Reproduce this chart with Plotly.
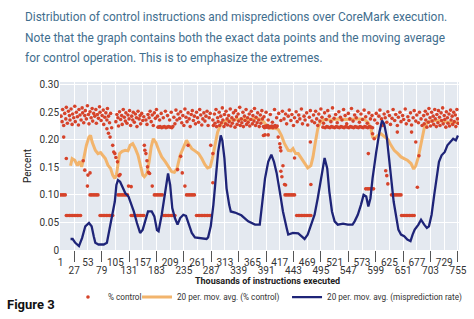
import plotly.graph_objects as go

# ---------------- data ----------------
tick_values = [1, 27, 53, 79, 105, 131, 157, 183, 209, 235, 261, 287, 313, 339, 365,
               391, 417, 443, 469, 495, 521, 547, 573, 599, 625, 651, 677, 703, 729, 755]
y_ticks = [0, 0.05, 0.10, 0.15, 0.20, 0.25, 0.30]
y_tick_text = ["0", "0.05", "0.10", "0.15", "0.20", "0.25", "0.30"]

title_lines = [
    "Distribution of control instructions and mispredictions over CoreMark execution.",
    "Note that the graph contains both the exact data points and the moving average",
    "for control operation. This is to emphasize the extremes.",
]

# 20 per. moving average (misprediction rate)
mis_x = [20, 24, 29, 36, 42, 48, 55, 60, 64, 67, 73, 83, 89, 92, 96, 100, 104, 107, 110, 114,
         118, 124, 130, 135, 140, 146, 152, 157, 162, 167, 174, 179, 184, 187, 193, 200, 205, 209,
         213, 218, 223, 228, 234, 239, 244, 250, 256, 269, 278, 281, 286, 291, 295, 300, 305, 308,
         312, 316, 321, 324, 332, 344, 357, 370, 379, 382, 389, 395, 401, 406, 411, 417, 423, 430,
         433, 442, 452, 458, 464, 470, 477, 483, 489, 496, 502, 507, 511, 516, 521, 527, 537, 546,
         555, 559, 565, 571, 576, 581, 585, 589, 593, 600, 606, 611, 615, 620, 625, 629, 633, 638,
         642, 647, 653, 659, 665, 669, 673, 680, 685, 691, 696, 700, 705, 710, 715, 719, 724, 730,
         735, 741, 746, 751, 755]
mis_y = [0.020, 0.020, 0.013, 0.007, 0.022, 0.043, 0.049, 0.043, 0.025, 0.013, 0.010, 0.010, 0.013,
         0.028, 0.046, 0.064, 0.088, 0.118, 0.127, 0.124, 0.115, 0.103, 0.097, 0.085, 0.070, 0.049,
         0.031, 0.037, 0.055, 0.070, 0.070, 0.061, 0.036, 0.034, 0.064, 0.112, 0.139, 0.118, 0.076,
         0.058, 0.046, 0.058, 0.064, 0.062, 0.046, 0.031, 0.023, 0.022, 0.020, 0.023, 0.043, 0.082,
         0.130, 0.178, 0.208, 0.199, 0.166, 0.112, 0.082, 0.070, 0.068, 0.063, 0.052, 0.046, 0.046,
         0.070, 0.130, 0.160, 0.173, 0.160, 0.140, 0.106, 0.070, 0.040, 0.028, 0.031, 0.030, 0.025,
         0.020, 0.028, 0.046, 0.064, 0.094, 0.136, 0.167, 0.148, 0.106, 0.070, 0.052, 0.046, 0.048,
         0.046, 0.046, 0.052, 0.064, 0.082, 0.100, 0.097, 0.079, 0.094, 0.130, 0.178, 0.214, 0.235,
         0.229, 0.205, 0.166, 0.124, 0.088, 0.058, 0.037, 0.028, 0.025, 0.019, 0.016, 0.028, 0.037,
         0.046, 0.055, 0.046, 0.040, 0.043, 0.064, 0.100, 0.136, 0.160, 0.172, 0.178, 0.190, 0.196,
         0.202, 0.199, 0.208]

# 20 per. moving average (% control)
avg_x = [20, 23, 28, 33, 37, 41, 45, 50, 55, 58, 61, 64, 67, 72, 77, 81, 86, 91, 96, 100, 104,
         107, 110, 113, 118, 124, 129, 133, 138, 143, 148, 152, 157, 160, 165, 169, 173, 177, 182,
         187, 193, 200, 206, 212, 217, 222, 228, 234, 240, 244, 250, 256, 263, 269, 275, 280, 285,
         289, 294, 299, 304, 310, 319, 332, 344, 357, 370, 379, 386, 392, 398, 408, 414, 420, 426,
         433, 438, 442, 447, 452, 458, 464, 470, 476, 480, 484, 489, 494, 502, 515, 527, 540, 552,
         565, 576, 584, 590, 593, 597, 603, 609, 615, 622, 628, 634, 641, 647, 653, 659, 666, 671,
         675, 680, 685, 688, 691, 697, 707, 716, 726, 735, 745, 755]
avg_y = [0.153, 0.166, 0.163, 0.153, 0.161, 0.151, 0.166, 0.190, 0.205, 0.208, 0.196, 0.187, 0.181,
         0.175, 0.177, 0.172, 0.166, 0.154, 0.148, 0.136, 0.130, 0.136, 0.157, 0.175, 0.179, 0.181,
         0.180, 0.190, 0.193, 0.184, 0.172, 0.157, 0.136, 0.133, 0.139, 0.160, 0.187, 0.202, 0.195,
         0.182, 0.169, 0.160, 0.151, 0.142, 0.141, 0.148, 0.172, 0.187, 0.199, 0.193, 0.184, 0.180,
         0.175, 0.166, 0.155, 0.149, 0.151, 0.166, 0.190, 0.214, 0.226, 0.233, 0.235, 0.237, 0.238,
         0.236, 0.239, 0.238, 0.233, 0.226, 0.221, 0.221, 0.219, 0.208, 0.193, 0.181, 0.180, 0.184,
         0.175, 0.175, 0.166, 0.157, 0.149, 0.153, 0.169, 0.193, 0.220, 0.233, 0.237, 0.236, 0.238,
         0.237, 0.238, 0.238, 0.238, 0.232, 0.220, 0.205, 0.203, 0.208, 0.211, 0.207, 0.201, 0.190,
         0.181, 0.175, 0.169, 0.166, 0.163, 0.157, 0.147, 0.153, 0.169, 0.193, 0.208, 0.221, 0.232,
         0.235, 0.235, 0.234, 0.232, 0.231, 0.232]

# % control, exact data points: main band
control_band = [
    (2, 0.243), (4, 0.233), (5, 0.255), (7, 0.226), (9, 0.248), (11, 0.238), (12, 0.259), (14, 0.230),
    (16, 0.252), (18, 0.244), (19, 0.236), (21, 0.256), (23, 0.228), (24, 0.247), (26, 0.240),
    (28, 0.261), (29, 0.233), (31, 0.250), (33, 0.242), (35, 0.227), (36, 0.255), (38, 0.245),
    (40, 0.236), (42, 0.258), (43, 0.249), (45, 0.231), (47, 0.244), (48, 0.253), (50, 0.238),
    (52, 0.262), (54, 0.246), (55, 0.229), (57, 0.251), (59, 0.240), (61, 0.257), (62, 0.234),
    (64, 0.248), (66, 0.243), (68, 0.255), (69, 0.230), (71, 0.246), (73, 0.239), (75, 0.260),
    (76, 0.250), (78, 0.235), (80, 0.244), (82, 0.254), (83, 0.228), (85, 0.241), (87, 0.249),
    (89, 0.236), (90, 0.257), (92, 0.243), (94, 0.231), (96, 0.248), (98, 0.222),
    (106, 0.233), (108, 0.246), (110, 0.240), (111, 0.225), (113, 0.251), (115, 0.237), (117, 0.244),
    (118, 0.228), (120, 0.255), (122, 0.241), (124, 0.234), (125, 0.249), (127, 0.230), (129, 0.245),
    (131, 0.238), (132, 0.253), (134, 0.226), (136, 0.243), (138, 0.236), (139, 0.250), (141, 0.232),
    (143, 0.247), (145, 0.240), (146, 0.224), (148, 0.252), (150, 0.238), (152, 0.244), (153, 0.229),
    (155, 0.248), (157, 0.235), (159, 0.242),
    (163, 0.236), (165, 0.228), (167, 0.246), (169, 0.240), (171, 0.252), (173, 0.233), (175, 0.245),
    (177, 0.226), (179, 0.249), (181, 0.239), (183, 0.255), (185, 0.243), (186, 0.223), (188, 0.223),
    (189, 0.236), (190, 0.224), (192, 0.248), (193, 0.222), (195, 0.223), (196, 0.240), (198, 0.224),
    (200, 0.252), (201, 0.222), (203, 0.223), (204, 0.244), (206, 0.224), (208, 0.236), (209, 0.223),
    (211, 0.250), (212, 0.222), (214, 0.224), (216, 0.241), (218, 0.229), (220, 0.254), (222, 0.236),
    (224, 0.247),
    (227, 0.239), (229, 0.251), (231, 0.231), (233, 0.244), (235, 0.226), (237, 0.256), (239, 0.241),
    (241, 0.233), (243, 0.249), (245, 0.238), (247, 0.224), (249, 0.246), (251, 0.253), (253, 0.235),
    (255, 0.243), (257, 0.229), (259, 0.250), (261, 0.240), (263, 0.232), (265, 0.255), (267, 0.245),
    (269, 0.227), (271, 0.238), (273, 0.249), (275, 0.234), (277, 0.243), (279, 0.252), (281, 0.226),
    (283, 0.240), (285, 0.248),
    (290, 0.236), (291, 0.226), (293, 0.247), (294, 0.230), (296, 0.255), (297, 0.224), (299, 0.240),
    (300, 0.233), (302, 0.250), (303, 0.226), (305, 0.243), (306, 0.231), (308, 0.258), (309, 0.236),
    (311, 0.224), (312, 0.246), (314, 0.229), (315, 0.252), (317, 0.238), (318, 0.227), (320, 0.244),
    (321, 0.233), (323, 0.256), (324, 0.225), (326, 0.240), (327, 0.230), (329, 0.249), (330, 0.236),
    (332, 0.223), (333, 0.253), (335, 0.242), (336, 0.228), (338, 0.247), (339, 0.234), (341, 0.259),
    (342, 0.226), (344, 0.238), (345, 0.231), (347, 0.250), (348, 0.224), (350, 0.243), (351, 0.235),
    (353, 0.255), (354, 0.228), (356, 0.240), (357, 0.232), (359, 0.247), (360, 0.225), (362, 0.237),
    (363, 0.252), (365, 0.229), (366, 0.244), (368, 0.234), (369, 0.257), (371, 0.226), (372, 0.241),
    (374, 0.231), (375, 0.249), (377, 0.236), (378, 0.224), (380, 0.245), (381, 0.230), (383, 0.253),
    (384, 0.238),
    (386, 0.224), (388, 0.222), (390, 0.225), (392, 0.223), (394, 0.226), (396, 0.222), (398, 0.224),
    (400, 0.223), (402, 0.225), (404, 0.222), (406, 0.224), (408, 0.226), (410, 0.223), (412, 0.225),
    (387, 0.242), (391, 0.250), (395, 0.236), (399, 0.246), (403, 0.232), (407, 0.255), (411, 0.240),
    (415, 0.248), (419, 0.235), (422, 0.252),
    (425, 0.238), (428, 0.247), (430, 0.229), (433, 0.243), (435, 0.254), (438, 0.235), (440, 0.246),
    (443, 0.226), (445, 0.240), (448, 0.251), (450, 0.233), (453, 0.245), (455, 0.238), (458, 0.256),
    (460, 0.229), (463, 0.243), (465, 0.236), (468, 0.249), (470, 0.227), (473, 0.241), (475, 0.253),
    (478, 0.234),
    (481, 0.245), (483, 0.231), (485, 0.252), (487, 0.238), (489, 0.226), (491, 0.247), (493, 0.234),
    (495, 0.256), (497, 0.241), (499, 0.223), (500, 0.230), (502, 0.249), (503, 0.222), (505, 0.237),
    (506, 0.224), (508, 0.253), (509, 0.223), (511, 0.243), (512, 0.222), (514, 0.233), (515, 0.224),
    (517, 0.258), (518, 0.223), (520, 0.239), (521, 0.222), (523, 0.246), (524, 0.224), (526, 0.231),
    (527, 0.223), (529, 0.251), (530, 0.222), (532, 0.241), (533, 0.224), (535, 0.236), (536, 0.223),
    (538, 0.255), (539, 0.222), (541, 0.244), (542, 0.224), (544, 0.229), (545, 0.223), (547, 0.248),
    (548, 0.222), (550, 0.238), (551, 0.224), (553, 0.257), (554, 0.223), (556, 0.234), (557, 0.222),
    (559, 0.245), (560, 0.224), (562, 0.240), (563, 0.223), (565, 0.252), (566, 0.222), (568, 0.232),
    (569, 0.224), (571, 0.247), (572, 0.223), (574, 0.237), (575, 0.222), (577, 0.254), (578, 0.224),
    (580, 0.242), (581, 0.223), (583, 0.230), (584, 0.222), (586, 0.249), (587, 0.224), (589, 0.238),
    (590, 0.223), (592, 0.244), (593, 0.222),
    (597, 0.236), (600, 0.248), (602, 0.230), (605, 0.243), (607, 0.254), (610, 0.238), (612, 0.226),
    (615, 0.247), (617, 0.240), (620, 0.232), (622, 0.251), (625, 0.244), (627, 0.228), (630, 0.239),
    (632, 0.255), (635, 0.235), (637, 0.246), (640, 0.226), (642, 0.241), (645, 0.250), (647, 0.233),
    (650, 0.244), (652, 0.237), (655, 0.256), (657, 0.229), (660, 0.242), (662, 0.235), (665, 0.249),
    (667, 0.227), (670, 0.240), (672, 0.253), (675, 0.234), (677, 0.245), (680, 0.231), (682, 0.250),
    (685, 0.238), (687, 0.226),
    (690, 0.244), (691, 0.229), (693, 0.252), (694, 0.236), (696, 0.223), (697, 0.247), (699, 0.232),
    (700, 0.257), (702, 0.240), (703, 0.225), (705, 0.250), (706, 0.234), (708, 0.243), (709, 0.228),
    (711, 0.255), (712, 0.238), (714, 0.224), (715, 0.246), (717, 0.231), (718, 0.253), (720, 0.241),
    (721, 0.226), (723, 0.249), (724, 0.235), (726, 0.258), (727, 0.229), (729, 0.244), (730, 0.237),
    (732, 0.223), (733, 0.251), (735, 0.240), (736, 0.230), (738, 0.247), (739, 0.225), (741, 0.254),
    (742, 0.236), (744, 0.243), (745, 0.228), (747, 0.250), (748, 0.233), (750, 0.245), (751, 0.224),
    (753, 0.255), (754, 0.238), (755, 0.230),
]

# % control, exact data points: excursions below the band
control_outliers = [
    (7, 0.205), (12, 0.166), (44, 0.162), (47, 0.145), (52, 0.116), (53, 0.136), (57, 0.140),
    (89, 0.220), (92, 0.212), (95, 0.205), (100, 0.190), (102, 0.178), (104, 0.175), (106, 0.168),
    (109, 0.160), (112, 0.135), (114, 0.137), (130, 0.116), (135, 0.115), (160, 0.190), (161, 0.181),
    (163, 0.175), (165, 0.162), (166, 0.151), (168, 0.141), (170, 0.139), (175, 0.116), (223, 0.146),
    (229, 0.170), (232, 0.140), (237, 0.116), (243, 0.190), (286, 0.190), (290, 0.175), (290, 0.122),
    (386, 0.208), (389, 0.209), (395, 0.209), (414, 0.205), (417, 0.193), (418, 0.186), (419, 0.180),
    (419, 0.143), (421, 0.133), (423, 0.153), (426, 0.119), (428, 0.118), (445, 0.167), (475, 0.196),
    (476, 0.119), (585, 0.175), (593, 0.211), (596, 0.202), (618, 0.144), (620, 0.135), (622, 0.120),
    (640, 0.214), (667, 0.214), (675, 0.196), (678, 0.114), (681, 0.171),
]

# % control, exact data points: flat low runs
run_100_x = [1, 4, 7, 10, 57, 60, 63, 66, 69, 72, 110, 113, 116, 119, 122, 125, 128,
             179, 182, 185, 188, 191, 194, 240, 243, 246, 249, 252, 255,
             427, 430, 433, 436, 439, 442, 445, 629, 632, 635, 638, 641, 644, 647]
run_063_x = [12, 15, 18, 21, 24, 27, 30, 33, 36, 39, 76, 79, 82, 85, 88, 91, 94, 97, 100,
             135, 138, 141, 144, 147, 150, 153, 156, 159, 197, 200, 203, 206, 209, 212, 215, 218,
             259, 262, 265, 268, 271, 274, 277, 280, 283, 286,
             449, 452, 455, 458, 461, 464, 467, 470, 473, 476,
             648, 651, 654, 657, 660, 663, 666, 669, 672]
run_111_x = [580, 583, 586, 589, 592, 595]

# ---------------- assemble ----------------
ctrl_x = [p[0] for p in control_band] + [p[0] for p in control_outliers] + run_100_x + run_063_x + run_111_x
ctrl_y = ([p[1] for p in control_band] + [p[1] for p in control_outliers]
          + [0.100] * len(run_100_x) + [0.0625] * len(run_063_x) + [0.111] * len(run_111_x))

FONT = "Roboto, Liberation Sans, Arial, sans-serif"

fig = go.Figure()
fig.add_trace(go.Scatter(x=avg_x, y=avg_y, mode="lines", name="20 per. mov. avg. (% control)",
                         line=dict(color="#f2b46c", width=3), legend="legend2"))
fig.add_trace(go.Scatter(x=ctrl_x, y=ctrl_y, mode="markers", name="% control",
                         marker=dict(color="#d6432a", size=3.6), legend="legend"))
fig.add_trace(go.Scatter(x=mis_x, y=mis_y, mode="lines", name="20 per. mov. avg. (misprediction rate)",
                         line=dict(color="#1e2478", width=2.3), legend="legend3", xaxis="x2"))

upper_vals = tick_values[0::2]
lower_vals = tick_values[1::2]
xr = [0, 757]

leg_common = dict(orientation="h", xanchor="left", y=-0.28, yanchor="middle",
                  font=dict(family=FONT, size=8.2, color="#333333"), bgcolor="rgba(0,0,0,0)",
                  itemwidth=30)

fig.update_layout(
    width=474, height=319,
    margin=dict(l=60, r=15, t=82, b=69, autoexpand=False),
    paper_bgcolor="white", plot_bgcolor="#e4e9f0",
    font=dict(family=FONT, size=10, color="#333333"),
    showlegend=True,
    legend=dict(x=0.02, **leg_common),
    legend2=dict(x=0.193, **leg_common),
    legend3=dict(x=0.569, **leg_common),
    xaxis=dict(range=xr, tickvals=upper_vals, ticktext=[str(v) for v in upper_vals],
               showgrid=True, gridcolor="white", gridwidth=1, ticks="", zeroline=False,
               showline=False, tickfont=dict(family=FONT, size=10, color="#333333"),
               ticklabelstandoff=5,
               minor=dict(tickmode="linear", tick0=27, dtick=52, showgrid=True,
                          gridcolor="white", gridwidth=1, ticks="")),
    xaxis2=dict(range=xr, overlaying="x", anchor="y", side="bottom", matches="x",
                tickvals=lower_vals, ticktext=[str(v) for v in lower_vals],
                ticks="outside", ticklen=11, tickwidth=1, tickcolor="#555555",
                showgrid=False, zeroline=False, showline=False,
                tickfont=dict(family=FONT, size=10, color="#333333"), ticklabelstandoff=0),
    yaxis=dict(range=[0, 0.305], tickvals=y_ticks, ticktext=y_tick_text, showgrid=True,
               gridcolor="white", gridwidth=1, zeroline=False, showline=False, ticks="",
               tickfont=dict(family=FONT, size=10, color="#333333"),
               title=dict(text="Percent", font=dict(family=FONT, size=10, color="#222222"),
                          standoff=6)),
)

for line_text, yp in zip(title_lines, [1.387, 1.262, 1.143]):
    fig.add_annotation(xref="paper", yref="paper", x=-0.0927, y=yp, xanchor="left",
                       yanchor="middle", align="left", showarrow=False, text=line_text,
                       font=dict(family=FONT, size=11.9, color="#3f6e8e"))
fig.add_annotation(xref="paper", yref="paper", x=0.521, y=-0.185, xanchor="center", yanchor="middle",
                   showarrow=False, text="<b>Thousands of instructions executed</b>",
                   font=dict(family=FONT, size=9, color="#222222"))
fig.add_annotation(xref="paper", yref="paper", x=-0.138, y=-0.327, xanchor="left", yanchor="middle",
                   showarrow=False, text="<b>Figure 3</b>",
                   font=dict(family=FONT, size=13, color="#111111"))

fig.write_html("out.html")
